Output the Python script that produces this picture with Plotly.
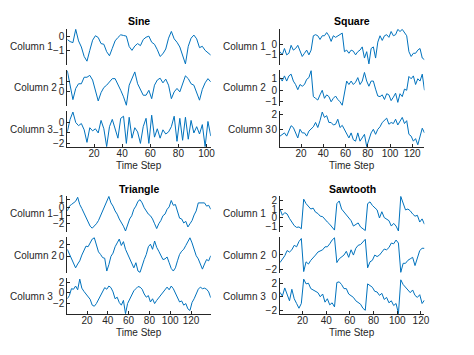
import plotly.graph_objects as go

W, H = 474, 355

# ---------------- data ----------------
sine_t = list(range(1, 104, 2))
sine_c1 = [-0.2, -0.35, -0.43, 0.55, -0.3, -0.75, -1.45, -1.8, -1.0, -0.25, 0.08, -0.05, -0.5,
           -0.55, -1.1, -1.4, -0.85, -0.3, -0.05, 0.15, 0.1, 0.05, -0.72, -1.0, -0.68, -0.5,
           -0.65, -0.2, -0.03, 0.05, -0.4, -0.55, -0.95, -1.45, -1.25, -0.9, -0.1, 0.4, -0.15,
           -0.4, -0.75, -1.3, -2.0, -0.7, -0.1, 0.13, -0.15, -0.8, -0.7, -1.0, -1.2, -1.35]
sine_c2 = [2.2, 0.5, -0.9, 0.3, 0.8, 0.8, 1.5, 1.5, 1.7, 1.2, -0.07, -1.04, -0.15, 0.4, 0.65,
           1.0, 1.35, 1.35, 0.8, 0.1, -0.6, -1.5, 0.65, 1.35, 2.07, 0.8, 0.2, -0.43, -0.43, 0.1,
           -0.8, 0.65, 1.2, 1.4, 0.9, 1.3, 0.65, -0.8, -0.07, 0.3, -0.07, 0.8, 1.65, 1.35, 0.8,
           0.65, -0.25, -0.96, 0.2, 0.9, 1.35, 1.0]
sine_c3 = [-0.9, 0.3, 1.0, 0.0, -0.3, -0.1, -0.7, -1.9, -0.5, -0.8, -0.6, -1.0, 0.2, -0.6,
           -2.3, -0.4, 0.3, -0.6, -1.5, 0.4, 0.6, -2.0, 0.5, -1.5, -0.5, -0.9, -2.0, -0.4, 0.4,
           -2.0, 0.7, -1.4, -0.6, -1.5, -0.7, -1.1, -0.9, -0.4, 0.6, -1.8, 0.4, -1.7, 0.5, -1.6,
           0.2, -1.0, -0.4, -1.1, -0.2, -2.3, 0.1, -1.3]

square_t = list(range(1, 132, 2))
square_c1 = [-0.7, -1.0, -0.4, -1.0, -0.85, -0.1, -0.55, -0.4, -0.1, -0.7, -1.15, -0.85, -0.55, -1.0, -0.55,
             0.8, 0.9, 0.8, 0.45, 0.8, 0.8, 1.1, 0.8, 0.27, 0.8, 0.65, 0.8, 0.9, 1.05,
             -0.7, -0.55, -0.85, -0.55, -0.65, -1.0, -0.7, -0.55, -0.25, -1.3, -0.7, -1.85, -0.4, -0.25, -1.3,
             0.2, 0.8, 0.36, 0.8, 0.9, 0.65, 1.2, 0.8, 0.9, 1.4, 1.2, 1.4, 1.1, 0.8,
             -0.7, -1.15, -0.85, -0.85, -0.55, -0.4, -1.3, -1.45]
square_c2 = [1.1, 0.8, 1.25, 0.8, 1.25, 1.4, 0.8, 0.5, 0.05, 0.5, 0.35, 0.5, 0.95, 1.1, 1.7,
             -0.55, -0.7, -0.85, -0.4, 0.0, -0.7, -0.4, -0.55, -1.0, -0.7, -0.5, -0.8, -1.0, -1.3,
             -0.4, 0.8, 0.5, 0.8, 0.5, 0.7, 1.1, 0.5, 0.8, 1.55, 0.8, 0.35, 0.8, 0.8, 0.1,
             -0.5, -0.55, -0.4, -0.8, -0.3, -0.4, -0.9, -0.6, -0.25, -1.05, -0.3, -0.55, 0.1, 0.0,
             1.2, 1.0, 1.25, 0.5, 1.0, 0.8, 1.4, 0.0]
square_c3 = [-0.95, -0.7, -0.5, -0.95, -0.25, 0.5, 0.25, -0.5, -1.2, 0.0, -0.5, -0.5, -0.95, -0.25, 0.0,
             0.35, 0.95, 0.25, 1.2, 2.4, 1.65, 1.9, 0.95, 0.95, 0.6, 0.7, 1.4, 0.25, 0.55,
             0.0, -0.5, -1.2, -0.5, -1.45, -1.65, -0.5, -1.65, -1.2, -0.7, -2.4, -1.45, -0.5, 0.0, -0.7,
             0.0, 0.35, 0.95, 1.3, 1.55, 0.7, 0.95, 0.8, 1.4, 0.6, 1.1, 1.65, 0.8, 1.2,
             -0.7, -0.95, -1.65, -1.3, -2.15, -0.95, 0.15, -0.5]

triangle_t = list(range(1, 140, 2))
triangle_c1 = [-0.4, 0.2, 0.4, 0.6, 0.8, 1.3, 0.4, -0.1, -0.7, -1.2, -1.8, -2.3, -2.55, -2.3,
               -2.0, -1.6, -1.0, -0.3, 0.3, 0.7, 1.4, 0.6, 0.2, -0.4, -0.8, -1.4, -1.8, -2.3,
               -2.9, -2.0, -1.4, -1.0, -0.2, 0.2, 0.8, 1.0, 0.6, 0.0, -0.4, -0.8, -1.0, -1.4,
               -2.0, -2.6, -2.0, -1.6, -1.0, -0.8, -0.2, 0.1, 0.9, 0.3, 0.4, -0.6, -1.3, -1.4,
               -1.9, -1.7, -2.4, -2.0, -1.6, -0.9, -0.4, 0.6, 0.6, 0.6, 0.6, 0.2, 0.3, -0.2]
triangle_c2 = [1.2, 0.4, -0.2, -0.9, -1.7, -1.1, -0.6, 0.3, 0.9, 1.7, 1.6, 2.2, 2.8, 3.0,
               1.9, 0.8, 0.4, -0.1, -0.2, -2.2, -1.2, 0.1, 0.6, 1.6, 2.2, 2.8, 1.8, 2.4,
               1.2, 0.4, -0.4, -0.9, -1.7, -0.9, -2.2, -2.4, -1.2, -0.4, 0.4, 1.6, 2.0, 1.2,
               2.5, 1.5, 0.9, 0.1, -0.4, -0.3, 0.0, -0.9, -1.8, -2.2, -1.7, -0.6, 0.4, 0.9,
               1.2, 1.8, 2.3, 3.0, 2.2, 1.2, 0.2, -0.3, -1.2, -1.9, -1.1, -0.4, -0.6, 0.2]
triangle_c3 = [-1.1, -0.5, 0.8, 0.7, 1.3, 0.6, 2.6, 0.9, 0.3, -0.2, -0.5, -1.2, -2.3, -2.5,
               -2.0, -1.2, -0.3, 0.5, 1.0, 0.7, 1.3, 1.0, 0.2, -1.1, -0.8, -1.8, -2.3, -1.4,
               -3.9, -2.0, -1.1, -0.2, 0.4, 0.8, 1.2, 1.1, 0.7, -0.2, -0.8, -0.5, -1.7, -1.1,
               -2.0, -1.4, -0.9, -0.5, 0.1, 0.7, 1.1, 0.6, 1.3, 0.8, 0.0, -0.8, -1.7, -1.5,
               -2.3, -2.0, -3.0, -3.3, -1.8, -1.1, 0.0, 0.7, 1.1, 0.8, 0.9, 0.7, 0.2, -0.9]

sawtooth_t = list(range(1, 124, 2))
sawtooth_c1 = [1.0, 0.3, 0.6, 0.45, -0.05, -0.5, -0.85, -1.05, -1.0, -1.2, 2.1, 1.6, 1.3, 1.0,
               1.1, 0.65, 0.5, 0.2, 0.15, -0.2, -0.45, -0.7, -1.0, -1.35, 1.6, 1.9, 1.0, 0.65,
               0.3, 0.0, -0.3, -0.9, -0.7, -0.55, -1.0, -1.25, -1.4, 1.6, 1.8, 1.4, 1.2, 0.9,
               0.0, 0.7, 0.05, -0.1, -0.3, -0.9, -0.6, -0.9, -1.45, 2.4, 1.6, 0.9, 1.0, 0.8,
               0.45, 0.2, 0.3, -0.45, -0.1, -0.7]
sawtooth_c2 = [-1.1, -0.6, -0.2, 0.5, 0.3, 0.6, 1.2, 1.0, 1.7, 2.1, -2.3, -1.0, -1.3, -0.8,
               -0.5, -0.1, 0.3, 0.5, 0.6, 1.0, 1.0, 1.4, 1.9, 2.2, -1.1, -0.6, -0.4, -0.1,
               0.4, -0.4, 0.6, -0.1, 0.8, 1.2, 1.3, 1.7, 2.0, -1.8, -1.0, -0.8, -0.1, -0.3,
               -0.1, 0.3, 0.7, 0.6, 0.9, 1.5, 1.4, 1.9, 1.5, -2.4, -1.2, -1.2, -0.8, -0.6,
               -0.4, -1.5, -0.4, 0.5, 0.8, 0.8]
sawtooth_c3 = [0.65, 0.1, 1.3, 0.2, -0.6, 1.1, -0.3, -1.0, -1.7, -1.0, 2.6, 1.9, 2.0, 1.2,
               1.0, 0.7, 0.6, 0.0, 0.4, -0.8, -0.3, -1.2, -0.9, -1.5, 2.1, 2.2, 1.8, 1.2,
               1.2, 0.4, 0.2, -0.1, -0.6, -0.9, -1.1, -1.7, -2.0, 1.9, 1.6, 1.4, 0.8, 0.7,
               0.2, 0.5, -0.4, -0.1, -0.9, -0.6, -1.3, -1.0, -2.5, 2.5, 1.8, 1.4, 1.0, 0.6,
               1.0, 0.2, -0.1, 0.3, -1.0, -0.5]

column_labels = ["Column 1", "Column 2", "Column 3"]
panel_titles = ["Sine", "Square", "Triangle", "Sawtooth"]
x_label = "Time Step"

sine_xticks = [20, 40, 60, 80, 100]
square_xticks = [20, 40, 60, 80, 100, 120]
triangle_xticks = [20, 40, 60, 80, 100, 120, 140]
sawtooth_xticks = [20, 40, 60, 80, 100, 120]

sine_yticks = [[0, -1], [1, 0], [0, -1, -2]]
square_yticks = [[0, -1], [1, 0, -1], [2, 0]]
triangle_yticks = [[1, 0, -1, -2], [2, 0], [2, 0, -2]]
sawtooth_yticks = [[2, 1, 0, -1], [0, -2], [2, 0, -2]]

# ---------------- layout geometry (pixels) ----------------
FONT = "Liberation Sans, Arial, Helvetica, sans-serif"
TXT = "#262626"
LINE = "#0072BD"

top_rows = [(27, 63.3), (68.8, 105.1), (110.6, 146.9)]
bot_rows = [(196, 232.3), (237.8, 274.1), (279.6, 315.9)]

panels = [
    dict(title=panel_titles[0], t=sine_t, cols=[sine_c1, sine_c2, sine_c3], xr=[1, 103],
         xpx=(68, 213), rows=top_rows, xticks=sine_xticks, yticks=sine_yticks,
         lab_right=[55.5, 59.5, 55.5], title_y=19, xlab_y=165),
    dict(title=panel_titles[1], t=square_t, cols=[square_c1, square_c2, square_c3], xr=[1, 131],
         xpx=(283, 429), rows=top_rows, xticks=square_xticks, yticks=square_yticks,
         lab_right=[270.5, 270.5, 275.5], title_y=19, xlab_y=165),
    dict(title=panel_titles[2], t=triangle_t, cols=[triangle_c1, triangle_c2, triangle_c3], xr=[1, 139],
         xpx=(68, 213), rows=bot_rows, xticks=triangle_xticks, yticks=triangle_yticks,
         lab_right=[55.5, 59.5, 55.5], title_y=189, xlab_y=334.5),
    dict(title=panel_titles[3], t=sawtooth_t, cols=[sawtooth_c1, sawtooth_c2, sawtooth_c3], xr=[1, 123],
         xpx=(283, 429), rows=bot_rows, xticks=sawtooth_xticks, yticks=sawtooth_yticks,
         lab_right=[270.5, 270.5, 270.5], title_y=189, xlab_y=334.5),
]

fig = go.Figure()
layout = {}
annotations = []

n = 0
for p in panels:
    x0, x1 = p["xpx"]
    for r in range(3):
        n += 1
        xa = "x" if n == 1 else f"x{n}"
        ya = "y" if n == 1 else f"y{n}"
        vals = p["cols"][r]
        fig.add_trace(go.Scatter(x=p["t"], y=vals, xaxis=xa, yaxis=ya, mode="lines",
                                 line=dict(color=LINE, width=1), showlegend=False,
                                 hoverinfo="skip"))
        y0, y1 = p["rows"][r]
        vmin, vmax = min(vals), max(vals)
        pad = 0.02 * (vmax - vmin)
        bottom = (r == 2)
        layout["xaxis" if n == 1 else f"xaxis{n}"] = dict(
            domain=[x0 / W, x1 / W], anchor=ya, range=p["xr"],
            showline=bottom, linecolor=TXT, linewidth=1,
            ticks="inside" if bottom else "", ticklen=3, tickcolor=TXT,
            tickvals=p["xticks"], showticklabels=bottom, ticklabelstandoff=-3,
            tickfont=dict(size=10, color=TXT, family=FONT),
            showgrid=False, zeroline=False, fixedrange=True)
        layout["yaxis" if n == 1 else f"yaxis{n}"] = dict(
            domain=[1 - y1 / H, 1 - y0 / H], anchor=xa, range=[vmin - pad, vmax + pad],
            showline=True, linecolor=TXT, linewidth=1,
            ticks="inside", ticklen=3, tickcolor=TXT,
            tickvals=p["yticks"][r], tickfont=dict(size=10, color=TXT, family=FONT),
            showgrid=False, zeroline=False, fixedrange=True)
        annotations.append(dict(text=column_labels[r], xref="paper", yref="paper",
                                x=p["lab_right"][r] / W, y=1 - (y0 + y1) / 2 / H,
                                xanchor="right", yanchor="middle", showarrow=False,
                                font=dict(size=10, color=TXT, family=FONT)))
    cx = (x0 + x1) / 2 / W
    annotations.append(dict(text="<b>" + p["title"] + "</b>", xref="paper", yref="paper",
                            x=cx, y=1 - p["title_y"] / H, xanchor="center", yanchor="middle",
                            showarrow=False, font=dict(size=10.5, color="#000000", family=FONT)))
    annotations.append(dict(text=x_label, xref="paper", yref="paper",
                            x=cx, y=1 - p["xlab_y"] / H, xanchor="center", yanchor="middle",
                            showarrow=False, font=dict(size=10, color=TXT, family=FONT)))

fig.update_layout(width=W, height=H, margin=dict(l=0, r=0, t=0, b=0),
                  paper_bgcolor="white", plot_bgcolor="white",
                  font=dict(family=FONT, size=10, color=TXT),
                  annotations=annotations, showlegend=False, **layout)

fig.write_html("out.html", config={"displayModeBar": False, "staticPlot": True},
               post_script="document.body.style.margin='0';document.body.style.overflow='hidden';")
